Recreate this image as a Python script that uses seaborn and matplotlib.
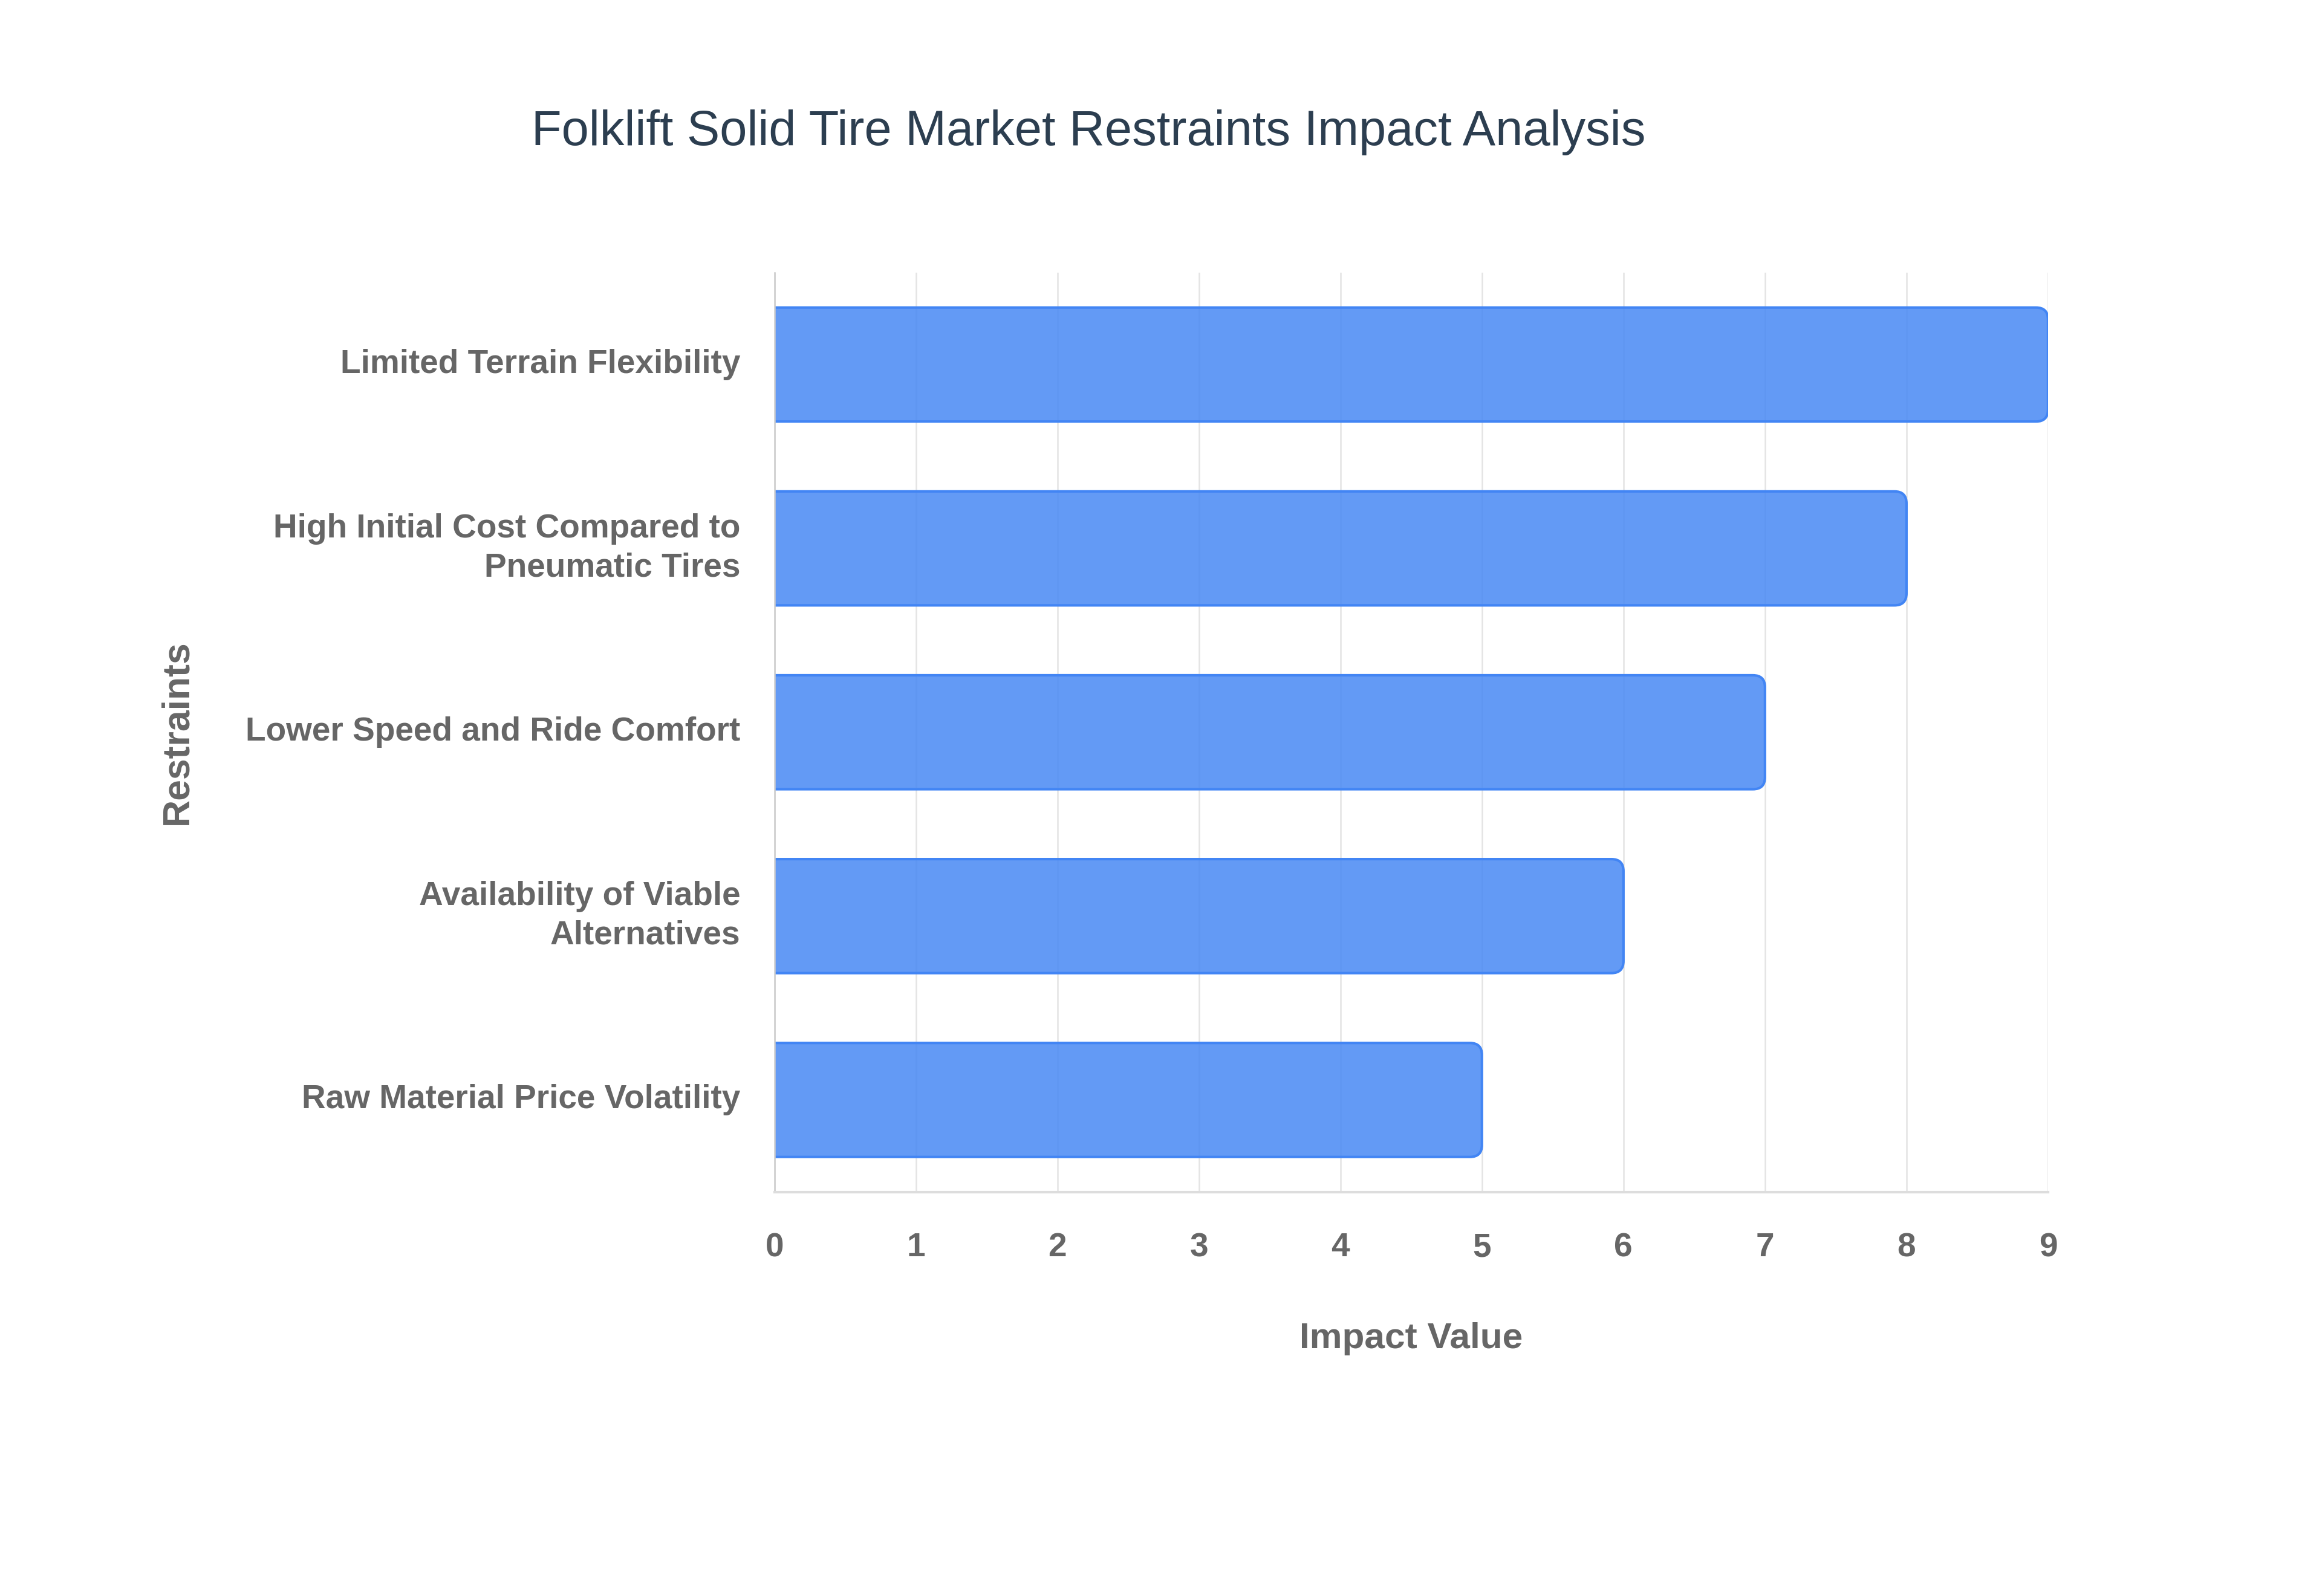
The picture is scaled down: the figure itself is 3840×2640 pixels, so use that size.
import matplotlib.pyplot as plt
import pandas as pd
import seaborn as sns
from matplotlib.patches import FancyBboxPatch


# Chart data
restraints = [
    "Limited Terrain Flexibility",
    "High Initial Cost Compared to\nPneumatic Tires",
    "Lower Speed and Ride Comfort",
    "Availability of Viable\nAlternatives",
    "Raw Material Price Volatility",
]
impact_values = [9, 8, 7, 6, 5]
x_ticks = [0, 1, 2, 3, 4, 5, 6, 7, 8, 9]

title = "Folklift Solid Tire Market Restraints Impact Analysis"

df = pd.DataFrame({"Restraints": restraints, "Impact Value": impact_values})

sns.set_theme(style="white")
plt.rcParams["font.family"] = ["Liberation Sans", "DejaVu Sans"]

label_color = "#666666"
bar_color = "#4285F4"
grid_color = "#e4e4e4"

fig = plt.figure(figsize=(12.8, 8.8), dpi=300)
ax = fig.add_axes([0.3335, 0.2532, 0.5485, 0.576])

sns.barplot(
    data=df,
    x="Impact Value",
    y="Restraints",
    orient="h",
    color=bar_color,
    width=0.62,
    ax=ax,
)

ax.set_xlim(x_ticks[0], x_ticks[-1])
ax.set_xticks(x_ticks)

# Swap the square bars for ones with rounded right corners
fig.canvas.draw()
bbox = ax.get_window_extent()
px_x = bbox.width / (x_ticks[-1] - x_ticks[0])
px_y = bbox.height / len(restraints)
radius = 0.085
for bar in list(ax.patches):
    x0, y0 = bar.get_x(), bar.get_y()
    w, h = bar.get_width(), bar.get_height()
    rounded = FancyBboxPatch(
        (x0 - radius, y0),
        w + radius,
        h,
        boxstyle=f"round,pad=0,rounding_size={radius}",
        mutation_aspect=px_x / px_y,
        facecolor=(66 / 255, 133 / 255, 244 / 255, 0.825),
        edgecolor=bar_color,
        linewidth=1.0,
        zorder=2,
    )
    bar.remove()
    ax.add_patch(rounded)

# Grid and spines
ax.grid(axis="x", color=grid_color, linewidth=0.6)
ax.grid(axis="y", visible=False)
ax.set_axisbelow(True)
for side in ["top", "right"]:
    ax.spines[side].set_visible(False)
ax.spines["left"].set_color("#cccccc")
ax.spines["left"].set_linewidth(0.6)
ax.spines["bottom"].set_color("#dddddd")
ax.spines["bottom"].set_linewidth(1.0)

# Ticks
ax.tick_params(axis="x", length=6, width=0.6, color=grid_color, pad=10,
               labelsize=13.2, labelcolor=label_color)
ax.tick_params(axis="y", length=0, pad=13.5, labelsize=13.2, labelcolor=label_color)
for label in ax.get_xticklabels():
    label.set_fontweight("bold")
for label in ax.get_yticklabels():
    label.set_fontweight("bold")
    label.set_linespacing(1.3)
    label.set_verticalalignment("center")

# Axis titles
ax.set_xlabel("Impact Value", fontsize=14.5, fontweight="bold", color=label_color)
ax.set_ylabel("Restraints", fontsize=15, fontweight="bold", color=label_color)
ax.xaxis.set_label_coords(0.5, -0.142)
ax.yaxis.set_label_coords(-0.455, 0.5)

fig.text(0.4688, 0.909, title, ha="center", va="baseline", fontsize=19.5, color="#2c3e50")

fig.savefig("out.png", dpi=300)
